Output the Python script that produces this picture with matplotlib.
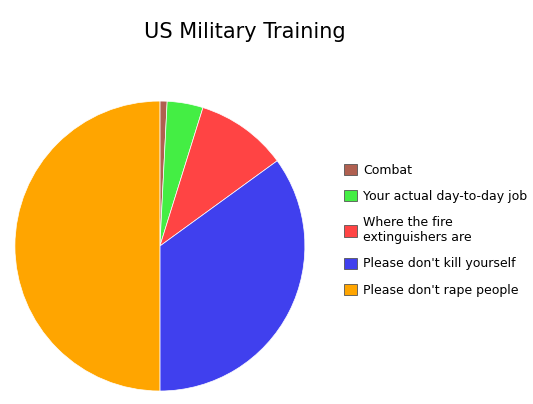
import matplotlib
matplotlib.use("Agg")
import matplotlib.pyplot as plt
from matplotlib.patches import Patch

labels = ["Combat", "Your actual day-to-day job", "Where the fire\nextinguishers are",
          "Please don't kill yourself", "Please don't rape people"]
values = [0.8, 4.0, 10.2, 35.0, 50.0]
colors = ["#b06050", "#44ee44", "#ff4444", "#4040ee", "#ffa500"]

fig = plt.figure(figsize=(5.33, 4.04), dpi=100)
ax = fig.add_axes([0.028, 0.032, 0.544, 0.718])
ax.pie(values, colors=colors, startangle=90, counterclock=False, radius=1.0,
       wedgeprops=dict(edgecolor="white", linewidth=0.5))
ax.set_xlim(-1, 1); ax.set_ylim(-1, 1)
ax.set_aspect("equal")
fig.text(0.46, 0.92, "US Military Training", ha="center", va="center", fontsize=15)
handles = [Patch(facecolor=c, edgecolor="#555555", linewidth=0.6) for c in colors]
fig.legend(handles, labels, loc="center left", bbox_to_anchor=(0.625, 0.43),
           frameon=False, fontsize=9, handlelength=1.0, handleheight=1.0,
           labelspacing=1.05, handletextpad=0.5)
fig.savefig("out.png", dpi=100)
